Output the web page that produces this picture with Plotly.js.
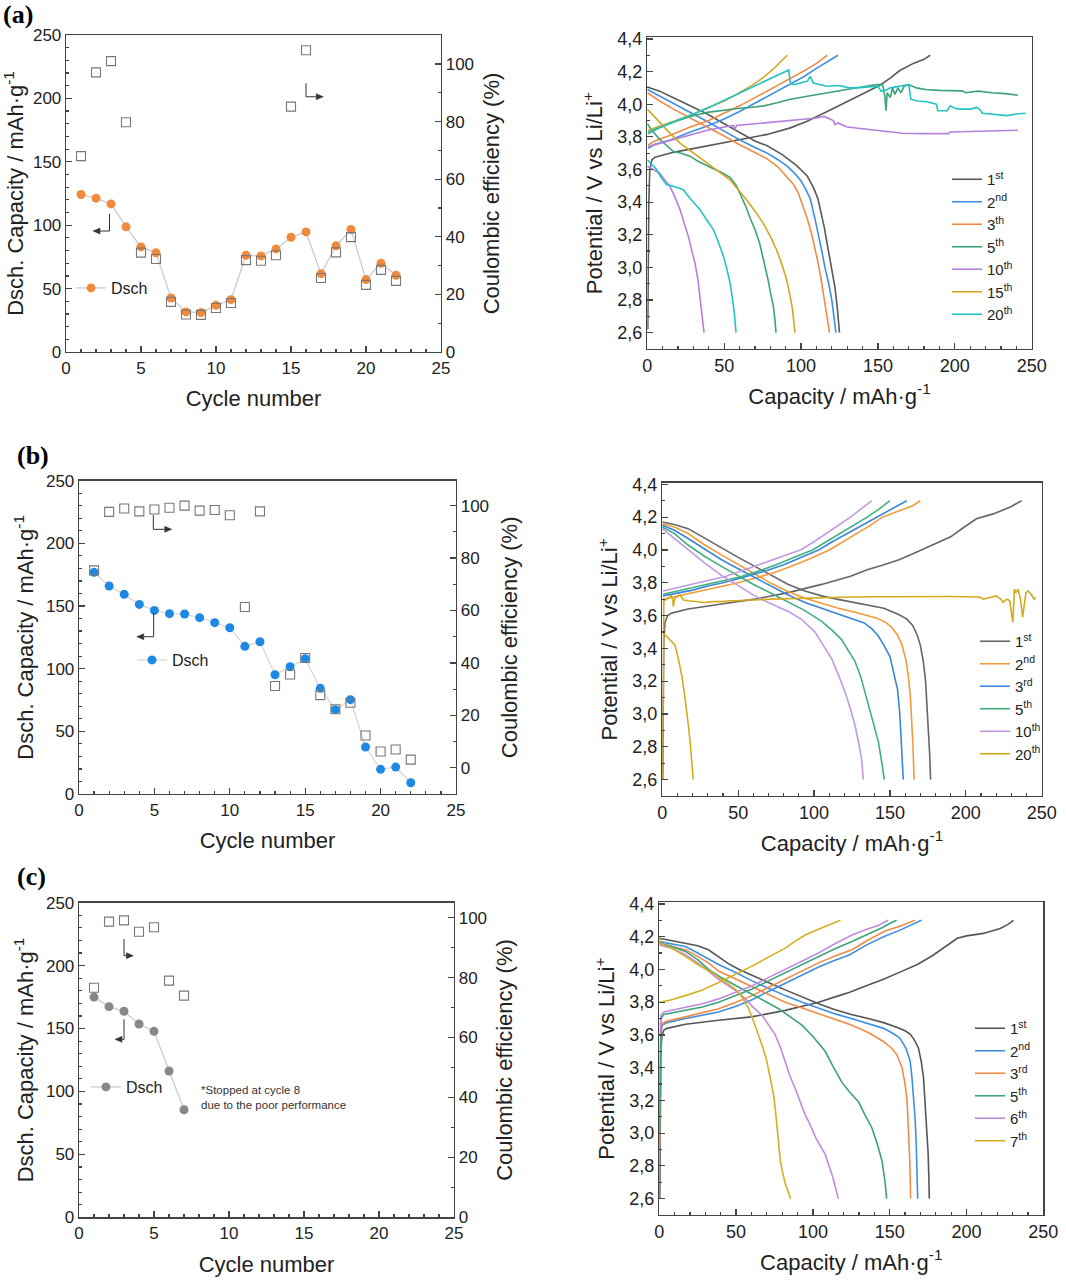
<!DOCTYPE html>
<html><head><meta charset="utf-8">
<script src="https://cdn.plot.ly/plotly-3.0.1.min.js"></script>
<style>html,body{margin:0;padding:0;background:#fff}#chart{width:1066px;height:1280px}</style>
</head><body><div id="chart"></div>
<script>
// ---------------- Cycling data (left panels) ----------------
const cyclesAB = [1,2,3,4,5,6,7,8,9,10,11,12,13,14,15,16,17,18,19,20,21,22];
const aDsch = [124.2,121.3,116.8,98.7,82.9,78.2,42.6,31.6,31.1,36.8,41.3,76.3,75.8,81.3,90.5,94.7,61.8,83.7,96.6,57.1,70,60.5];
const aCE   = [68.0,97.1,101.0,79.8,34.5,32.3,17.4,13.0,12.9,15.3,17.0,31.9,31.7,33.6,85.2,104.8,25.7,34.6,39.9,23.3,28.5,24.7];
const bDsch = [176.9,166,159.3,151.3,146.5,143.9,143.6,140.7,136.7,132.7,117.8,121.5,95.2,101.6,108,84.3,67.3,75.3,37.5,19.7,21.5,9];
const bCE   = [75.3,97.6,98.9,97.8,98.5,99.2,100,98.1,98.3,96.3,61.3,97.8,31.2,35.6,41.9,27.7,22.3,24.8,12.3,6.2,7.0,3.1];
const cyclesC = [1,2,3,4,5,6,7];
const cDsch = [175,167.4,163.7,153.6,147.8,116.3,85.5];
const cCE   = [76.6,98.7,99.1,95.3,96.8,79,74];

// ---------------- Voltage profiles: [capacity, potential] ----------------
// (a)
const a1Charge = [[0.3,2.62],[0.6,3.0],[1,3.4],[1.6,3.6],[3,3.66],[5,3.675],[17,3.705],[28,3.725],[45,3.755],[60,3.78],[78,3.815],[93,3.855],[104,3.895],[117,3.955],[130,4.015],[143,4.08],[151,4.115],[158,4.16],[164,4.205],[173,4.25],[180,4.275],[184,4.3]];
const a1Dis = [[0,4.105],[8,4.08],[17,4.04],[28,3.99],[39,3.94],[50,3.88],[60,3.825],[70,3.775],[78,3.745],[88,3.69],[97,3.625],[104,3.56],[108,3.49],[111,3.42],[115,3.25],[118,3.1],[120,3.0],[122,2.88],[123.5,2.76],[125,2.6]];
const a2Charge = [[0.5,3.73],[5,3.755],[15,3.78],[28,3.83],[40,3.87],[50,3.91],[60,3.955],[71,4.01],[82,4.065],[93,4.12],[102,4.17],[110,4.22],[117,4.26],[124,4.3]];
const a2Dis = [[0,4.09],[8,4.05],[17,4.007],[28,3.95],[39,3.894],[50,3.835],[60,3.782],[70,3.735],[78,3.7],[85,3.66],[91,3.62],[96,3.575],[100,3.53],[103,3.48],[106,3.42],[109,3.3],[111,3.22],[113.5,3.1],[115.5,3.0],[118,2.9],[120,2.8],[121.5,2.7],[122.7,2.6]];
const a3Charge = [[0.5,3.75],[5,3.775],[15,3.81],[28,3.86],[40,3.9],[50,3.945],[60,3.99],[71,4.045],[82,4.1],[93,4.155],[103,4.21],[110,4.25],[117,4.3]];
const a3Dis = [[0,4.07],[8,4.02],[17,3.97],[28,3.915],[39,3.864],[50,3.805],[60,3.752],[70,3.705],[78,3.665],[85,3.615],[90,3.565],[95,3.51],[98,3.46],[101,3.38],[104,3.3],[107,3.2],[109,3.12],[111,3.03],[113,2.93],[115,2.82],[117,2.7],[118.5,2.6]];
const a5Charge = [[0.5,3.82],[8,3.855],[17,3.89],[28,3.925],[39,3.95],[50,3.965],[60,3.975],[67,3.98],[76,3.99],[85,4.01],[93,4.03],[105,4.05],[117,4.07],[127,4.085],[136,4.1],[145,4.115],[150,4.12],[153,4.12],[154.5,4.05],[155.2,3.96],[156,4.07],[158,4.04],[159.5,4.1],[161,4.06],[163,4.1],[165,4.07],[167,4.11],[170,4.12],[175,4.1],[181,4.09],[190,4.085],[200,4.08],[205,4.082],[207,4.07],[212,4.075],[215,4.08],[224,4.07],[233,4.065],[241,4.055]];
const a5Dis = [[0,3.88],[3,3.84],[8,3.785],[13,3.74],[17,3.71],[22,3.7],[28,3.68],[33,3.65],[39,3.62],[44,3.6],[49,3.578],[54,3.55],[58,3.5],[61,3.44],[64,3.375],[67,3.3],[70,3.232],[73,3.15],[75,3.07],[77,3.0],[78.5,2.926],[80,2.85],[82,2.763],[83,2.68],[83.7,2.6]];
const a10Charge = [[0.5,3.74],[8,3.76],[17,3.78],[28,3.81],[39,3.84],[50,3.86],[56,3.87],[57,3.845],[58,3.87],[70,3.88],[82,3.89],[93,3.9],[104,3.91],[110,3.915],[115,3.925],[118,3.91],[121,3.9],[122,3.875],[124,3.885],[130,3.86],[140,3.85],[150,3.84],[166,3.822],[180,3.82],[196,3.82],[197,3.83],[210,3.832],[225,3.835],[241,3.84]];
const a10Dis = [[0,3.62],[4,3.6],[8,3.578],[11,3.54],[14.7,3.497],[18,3.43],[21.3,3.354],[24,3.27],[26.7,3.19],[29,3.1],[31,3.028],[33,2.92],[34.3,2.824],[35.7,2.7],[36.9,2.6]];
const a15Charge = [[0.5,3.84],[10,3.87],[20,3.905],[30,3.94],[40,3.98],[50,4.02],[60,4.07],[68,4.115],[75,4.16],[83,4.225],[91,4.3]];
const a15Dis = [[0,3.97],[4,3.93],[8.3,3.884],[15,3.82],[21.3,3.762],[30,3.7],[38.6,3.64],[46,3.59],[53.6,3.538],[59,3.48],[64.5,3.415],[70,3.345],[75.3,3.273],[80,3.19],[84,3.11],[87.5,3.02],[90.6,2.926],[93,2.82],[94.5,2.74],[96,2.6]];
const a20Charge = [[0.5,3.83],[10,3.865],[20,3.9],[30,3.94],[40,3.98],[50,4.025],[60,4.07],[70,4.115],[80,4.16],[86,4.185],[90,4.2],[92,4.21],[93,4.13],[95,4.12],[98,4.125],[101,4.135],[104,4.14],[106,4.17],[108,4.13],[112,4.12],[117,4.11],[125,4.115],[131,4.1],[136,4.1],[143,4.105],[150,4.11],[152,4.08],[155,4.085],[158,4.1],[164,4.11],[170,4.12],[171.5,4.03],[176,4.02],[182,4.015],[188,4.0],[189,3.96],[195,3.96],[197,3.99],[200,3.975],[203,3.97],[210,3.97],[214,3.98],[216,3.97],[218,3.945],[225,3.94],[234,3.93],[240,3.94],[246,3.945]];
const a20Dis = [[0,3.66],[3,3.63],[6,3.6],[9,3.55],[12.6,3.507],[16,3.5],[19,3.49],[23.4,3.476],[28,3.42],[34.3,3.354],[38,3.3],[43,3.232],[46,3.16],[49.5,3.069],[52,2.98],[53.8,2.906],[55.5,2.8],[56.6,2.722],[57.7,2.6]];
const aNames = ['1<sup>st</sup>','2<sup>nd</sup>','3<sup>th</sup>','5<sup>th</sup>','10<sup>th</sup>','15<sup>th</sup>','20<sup>th</sup>'];

// (b)
const b1Charge = [[0.3,2.6],[0.6,3.1],[1,3.45],[1.8,3.56],[3.5,3.6],[6.2,3.615],[17,3.64],[39,3.67],[61,3.7],[83,3.74],[105,3.79],[124,3.84],[135,3.88],[146,3.91],[156,3.94],[167,3.985],[178,4.03],[190,4.08],[199,4.14],[207,4.19],[218,4.22],[229,4.26],[236.7,4.3]];
const b1Dis = [[0,4.17],[8,4.155],[17,4.13],[28,4.07],[39,4.01],[50,3.955],[61,3.9],[72,3.845],[83,3.79],[94,3.75],[105,3.72],[115,3.7],[124,3.685],[135,3.665],[146,3.645],[155,3.61],[161,3.58],[165,3.54],[168,3.48],[170,3.42],[172,3.32],[173.5,3.2],[174.5,3.05],[175.5,2.9],[176.2,2.75],[176.8,2.6]];
const b2Charge = [[0.5,3.7],[10,3.72],[20,3.74],[30,3.76],[40,3.78],[50,3.8],[62,3.83],[73,3.86],[85,3.9],[97,3.945],[110,4.0],[119,4.05],[128,4.1],[137,4.15],[145,4.2],[152,4.225],[160,4.25],[165,4.27],[170,4.3]];
const b2Dis = [[0,4.16],[8,4.14],[17,4.1],[28,4.03],[39,3.97],[50,3.91],[61,3.85],[72,3.795],[83,3.745],[94,3.705],[105,3.675],[116,3.645],[127,3.62],[135,3.6],[141,3.585],[147,3.56],[151,3.53],[155,3.48],[158,3.42],[160.5,3.33],[162,3.24],[163.5,3.1],[164.5,2.93],[165.2,2.8],[165.9,2.6]];
const b3Charge = [[0.5,3.72],[10,3.735],[20,3.755],[30,3.78],[40,3.8],[50,3.825],[58,3.845],[69,3.875],[80,3.91],[92,3.955],[103,4.0],[112,4.05],[122,4.1],[131,4.15],[141,4.2],[150,4.245],[155,4.27],[161,4.3]];
const b3Dis = [[0,4.15],[8,4.12],[17,4.07],[28,4.005],[39,3.94],[50,3.885],[61,3.83],[72,3.775],[83,3.725],[94,3.68],[105,3.645],[115,3.615],[125,3.585],[133,3.555],[138,3.52],[142,3.48],[146,3.42],[150,3.35],[152.5,3.25],[155,3.15],[156.5,3.0],[157.5,2.85],[158.3,2.72],[158.8,2.6]];
const b5Charge = [[0.5,3.73],[10,3.75],[20,3.77],[30,3.79],[40,3.81],[51,3.835],[63,3.87],[75,3.91],[87,3.955],[99,4.0],[108,4.05],[117,4.1],[126,4.15],[135,4.2],[143,4.25],[150,4.3]];
const b5Dis = [[0,4.14],[8,4.1],[17,4.03],[28,3.96],[39,3.9],[50,3.84],[61,3.785],[72,3.735],[83,3.685],[94,3.63],[105,3.565],[112,3.51],[118,3.455],[123,3.38],[127,3.32],[131,3.22],[134,3.12],[136.5,3.03],[139,2.94],[142.4,2.83],[144.7,2.7],[146.3,2.6]];
const b10Charge = [[0.5,3.75],[10,3.77],[20,3.79],[31,3.815],[42,3.84],[53,3.875],[65,3.915],[78,3.955],[91,4.0],[100,4.05],[108,4.1],[116,4.15],[124,4.2],[131,4.25],[138,4.3]];
const b10Dis = [[0,4.13],[8,4.07],[17.2,4.0],[28,3.92],[39,3.845],[50,3.78],[61,3.72],[72,3.67],[83,3.625],[92,3.575],[100.6,3.5],[106,3.42],[111.6,3.337],[116,3.24],[120.4,3.134],[124,3.03],[127,2.93],[129.5,2.82],[131.3,2.727],[132.5,2.6]];
const b20Charge = [[0.1,2.6],[0.3,3.0],[0.6,3.5],[1,3.69],[3,3.7],[6,3.72],[7,3.69],[7.3,3.655],[8,3.7],[10,3.72],[11.7,3.725],[14,3.695],[17,3.69],[22,3.685],[28,3.68],[33,3.685],[39,3.685],[45,3.69],[50,3.69],[55,3.695],[61,3.695],[72,3.7],[83,3.703],[95,3.705],[105,3.706],[124,3.713],[145,3.715],[167,3.717],[190,3.716],[207,3.713],[210,3.71],[211.4,3.7],[215,3.71],[220,3.72],[223,3.7],[224.6,3.68],[227,3.7],[229,3.69],[230,3.62],[231,3.56],[232,3.76],[233,3.74],[234.5,3.76],[236,3.7],[237.4,3.59],[238.5,3.66],[239.6,3.74],[241,3.75],[243,3.73],[245,3.7],[246,3.71]];
const b20Dis = [[0,3.5],[2,3.48],[4,3.46],[6,3.44],[8.4,3.42],[10.5,3.34],[12.8,3.235],[14.5,3.13],[16,3.03],[17.2,2.93],[18.3,2.83],[19.5,2.7],[20.4,2.6]];
const bNames = ['1<sup>st</sup>','2<sup>nd</sup>','3<sup>rd</sup>','5<sup>th</sup>','10<sup>th</sup>','20<sup>th</sup>'];

// (c)
const c1Charge = [[0.3,2.6],[0.6,3.2],[1,3.5],[1.8,3.6],[3,3.63],[5,3.64],[17,3.665],[38.6,3.69],[60,3.71],[82,3.75],[103.7,3.8],[117,3.84],[124,3.86],[136,3.905],[146,3.94],[157,3.985],[168,4.03],[178,4.085],[189,4.16],[194,4.19],[200,4.205],[211,4.22],[222,4.25],[227,4.275],[230.6,4.3]];
const c1Dis = [[0,4.19],[8,4.175],[17,4.16],[25,4.145],[32,4.12],[38,4.08],[45,4.035],[52,4.0],[60,3.965],[71,3.92],[82,3.875],[93,3.83],[103.7,3.79],[114,3.755],[125,3.725],[136,3.7],[146,3.675],[155,3.645],[160,3.625],[163.3,3.605],[166,3.57],[168.7,3.52],[170.5,3.44],[172,3.34],[173,3.2],[174,3.03],[175,2.88],[175.5,2.73],[175.8,2.6]];
const c2Charge = [[0.3,2.9],[0.6,3.4],[1,3.62],[2,3.66],[5,3.675],[17,3.7],[28,3.72],[38.6,3.74],[50,3.775],[60.4,3.815],[71,3.865],[82,3.915],[93,3.965],[103.7,4.015],[114,4.055],[124,4.09],[135,4.15],[146,4.2],[156.7,4.24],[164,4.27],[170.7,4.3]];
const c2Dis = [[0,4.17],[8,4.155],[17,4.14],[25,4.1],[32,4.065],[38.6,4.03],[50,3.98],[60.4,3.93],[71,3.885],[82,3.84],[93,3.8],[103.7,3.765],[114,3.73],[125,3.7],[136,3.67],[146,3.64],[152,3.61],[156.7,3.58],[160.5,3.52],[163.3,3.44],[164.5,3.34],[165.5,3.23],[166.6,3.08],[167.3,2.93],[167.8,2.78],[168.2,2.6]];
const c3Charge = [[0.3,2.9],[0.6,3.4],[1,3.63],[2,3.67],[5,3.685],[17,3.71],[28,3.735],[38.6,3.76],[50,3.8],[60.4,3.84],[71,3.89],[82,3.94],[93,3.99],[103.7,4.04],[114,4.08],[125.4,4.12],[136,4.18],[147,4.235],[157,4.265],[166.4,4.3]];
const c3Dis = [[0,4.16],[8,4.14],[17,4.12],[25,4.08],[32,4.04],[38.6,3.99],[50,3.94],[60.4,3.89],[71,3.845],[82,3.8],[93,3.765],[103.7,3.73],[114,3.7],[125,3.66],[136,3.615],[145.9,3.56],[151,3.52],[154.6,3.48],[158,3.4],[160,3.3],[161.3,3.2],[162.3,3.03],[163,2.85],[163.4,2.7],[163.6,2.6]];
const c5Charge = [[0.3,3.0],[0.6,3.5],[1,3.7],[3,3.725],[17,3.75],[28,3.77],[38.6,3.8],[50,3.84],[60.4,3.88],[71,3.93],[82,3.98],[93,4.03],[103.7,4.08],[114,4.125],[125.4,4.17],[135,4.21],[145,4.255],[150,4.28],[154.5,4.3]];
const c5Dis = [[0,4.16],[8,4.14],[17,4.11],[25,4.06],[32,4.0],[38.6,3.96],[50,3.9],[60.4,3.85],[70,3.8],[77.7,3.76],[85,3.71],[92.9,3.66],[100,3.59],[108,3.5],[113,3.41],[118.9,3.31],[124,3.25],[129.8,3.19],[134,3.11],[138.5,3.03],[142,2.93],[145,2.83],[147,2.7],[148,2.6]];
const c6Charge = [[0.5,3.6],[1,3.72],[3,3.74],[17,3.77],[28,3.79],[38.6,3.82],[50,3.86],[60.4,3.9],[71,3.95],[82,4.0],[93,4.05],[103.7,4.1],[114,4.155],[125.4,4.21],[135,4.245],[143,4.27],[149,4.3]];
const c6Dis = [[0,4.15],[8,4.13],[17,4.09],[25,4.04],[32,3.99],[38.6,3.94],[45,3.9],[50,3.87],[56,3.82],[61,3.77],[66.9,3.72],[71,3.66],[75.5,3.6],[79,3.52],[82,3.44],[85,3.35],[88.6,3.27],[92,3.18],[95,3.11],[97.3,3.07],[102,2.97],[108,2.87],[113,2.73],[116.5,2.6]];
const c7Charge = [[0.5,3.8],[8,3.815],[17,3.84],[28,3.875],[38.6,3.92],[50,3.97],[60.4,4.02],[71,4.075],[82,4.13],[88,4.17],[95,4.21],[103.7,4.245],[110,4.27],[117.9,4.3]];
const c7Dis = [[0,4.2],[0.5,4.16],[8,4.13],[17,4.08],[25,4.03],[34.3,3.98],[42,3.93],[49.5,3.88],[54,3.83],[58.2,3.76],[61.5,3.68],[64.7,3.6],[67.5,3.52],[70,3.44],[72.5,3.33],[74.5,3.23],[75.7,3.13],[76.6,3.03],[77.5,2.93],[78.8,2.83],[80.5,2.75],[82,2.69],[84,2.64],[85.5,2.6]];
const cNames = ['1<sup>st</sup>','2<sup>nd</sup>','3<sup>rd</sup>','5<sup>th</sup>','6<sup>th</sup>','7<sup>th</sup>'];

// ---------------- styling ----------------
const FONT = 'Liberation Sans, Arial, sans-serif';
const W = 1066, H = 1280;
const colA = ['#5a5a5a','#3d8fe0','#f08c46','#3aa378','#b57fdc','#d4a520','#22c4c4'];
const colB = ['#666666','#f39a3c','#3a86d8','#3fb07f','#c39ae0','#d4aa1c'];
const colC = ['#555555','#3d8fe0','#f08c46','#3aa378','#c08ae0','#d4b020'];

// pixel boxes [left, top, right, bottom]
const boxes = {
  aL:[66,35,441,352], aR:[647.3,37.3,1031.7,349],
  bL:[79,480.7,456,794], bR:[662.3,482.7,1041.7,796],
  cL:[79,902.7,454,1217.3], cR:[659.3,902.3,1043.3,1215]
};
const dx = b => [b[0]/W, b[2]/W];
const dy = b => [1-b[3]/H, 1-b[1]/H];

function curve(ch, dis, name, color, xa, ya, lg){
  return {
    type:'scatter', mode:'lines', name:name, legend:lg, xaxis:xa, yaxis:ya,
    x: ch.map(p=>p[0]).concat([null], dis.map(p=>p[0])),
    y: ch.map(p=>p[1]).concat([null], dis.map(p=>p[1])),
    line:{color:color, width:1.6}, connectgaps:false
  };
}
function dsch(x, y, color, lineColor, xa, ya, lg){
  return {type:'scatter', mode:'lines+markers', name:'Dsch', legend:lg, xaxis:xa, yaxis:ya,
    x:x, y:y, marker:{color:color, size:9}, line:{color:lineColor, width:1.3}};
}
function ce(x, y, xa, ya){
  return {type:'scatter', mode:'markers', name:'CE', showlegend:false, xaxis:xa, yaxis:ya,
    x:x, y:y, marker:{symbol:'square-open', color:'#777', size:9, line:{width:1.1}}};
}

const traces = [];
traces.push(dsch(cyclesAB, aDsch, '#f08a3c', '#c5cdd8', 'x', 'y', 'legend'));
traces.push(ce(cyclesAB, aCE, 'x', 'y2'));
[[a1Charge,a1Dis],[a2Charge,a2Dis],[a3Charge,a3Dis],[a5Charge,a5Dis],[a10Charge,a10Dis],[a15Charge,a15Dis],[a20Charge,a20Dis]]
  .forEach((c,i)=>traces.push(curve(c[0],c[1],aNames[i],colA[i],'x2','y3','legend2')));
traces.push(ce(cyclesAB, bCE, 'x3', 'y5'));
traces.push(dsch(cyclesAB, bDsch, '#1e88e5', '#ddd6cc', 'x3', 'y4', 'legend3'));
[[b1Charge,b1Dis],[b2Charge,b2Dis],[b3Charge,b3Dis],[b5Charge,b5Dis],[b10Charge,b10Dis],[b20Charge,b20Dis]]
  .forEach((c,i)=>traces.push(curve(c[0],c[1],bNames[i],colB[i],'x4','y6','legend4')));
traces.push(ce(cyclesC, cCE, 'x5', 'y8'));
traces.push(dsch(cyclesC, cDsch, '#888888', '#cccccc', 'x5', 'y7', 'legend5'));
[[c1Charge,c1Dis],[c2Charge,c2Dis],[c3Charge,c3Dis],[c5Charge,c5Dis],[c6Charge,c6Dis],[c7Charge,c7Dis]]
  .forEach((c,i)=>traces.push(curve(c[0],c[1],cNames[i],colC[i],'x6','y9','legend6')));

const AX = {showline:true, linecolor:'#444', linewidth:1.3, ticks:'inside', ticklen:6, tickwidth:1.2,
  tickcolor:'#444', showgrid:false, zeroline:false, tickfont:{size:17, color:'#222', family:FONT}};
function xCyc(b, anchor){
  return Object.assign({}, AX, {domain:dx(b), anchor:anchor, range:[0,25], dtick:5, tick0:0, mirror:true,
    minor:{dtick:1, ticks:'inside', ticklen:3, tickcolor:'#444'},
    title:{text:'Cycle number', font:{size:22, color:'#222'}, standoff:14}});
}
function yCap(b, anchor){
  return Object.assign({}, AX, {domain:dy(b), anchor:anchor, range:[0,250], dtick:50, tick0:0,
    minor:{dtick:10, ticks:'inside', ticklen:3, tickcolor:'#444'},
    title:{text:'Dsch. Capacity / mAh·g<sup>-1</sup>', font:{size:22, color:'#222'}, standoff:6}});
}
function yCE(range, overlay, anchor, so){
  return Object.assign({}, AX, {overlaying:overlay, side:'right', anchor:anchor, range:range, dtick:20, tick0:0,
    minor:{dtick:10, ticks:'inside', ticklen:3, tickcolor:'#444'},
    title:{text:'Coulombic efficiency (%)', font:{size:22, color:'#222'}, standoff:so}});
}
function xVolt(b, anchor){
  return Object.assign({}, AX, {domain:dx(b), anchor:anchor, range:[0,250], dtick:50, tick0:0, mirror:true,
    tickfont:{size:18, color:'#222', family:FONT},
    minor:{dtick:10, ticks:'inside', ticklen:3, tickcolor:'#444'},
    title:{text:'Capacity / mAh·g<sup>-1</sup>', font:{size:22, color:'#222'}, standoff:13}});
}
function yVolt(b, anchor){
  return Object.assign({}, AX, {domain:dy(b), anchor:anchor, range:[2.5,4.41], dtick:0.2, tick0:2.6, tickformat:'.1f', mirror:true,
    tickfont:{size:18, color:'#222', family:FONT},
    minor:{dtick:0.1, ticks:'inside', ticklen:3, tickcolor:'#444'},
    title:{text:'Potential / V vs Li/Li<sup>+</sup>', font:{size:22, color:'#222'}, standoff:8}});
}

function legendAt(px, py, size){
  return {x:px/W, y:1-py/H, xanchor:'left', yanchor:'top', bgcolor:'rgba(0,0,0,0)',
    font:{size:size, color:'#222', family:FONT}, tracegroupgap:0, itemwidth:30};
}

// bent-arrow decorations [x0, yTop, yCorner, xEnd] in data units of the capacity axis
const arrowsA = [[2.9,109,95.4,1.8],[16.0,211.9,201.3,17.15]];
const arrowsB = [[4.95,144.2,125.5,3.83],[4.93,222.6,211.2,6.15]];
const arrowsC = [[3.0,157.3,141.4,2.4],[3.0,221.2,207.9,3.62]];
const shapes = [], annotations = [];
function addArrows(arr, xr, yr, b){
  const pxX = (b[2]-b[0])/25, pxY = (b[3]-b[1])/250;  // px per data unit
  arr.forEach(a=>{
    const dir = Math.sign(a[3]-a[0]);
    const hl = 7/pxX, hw = 3/pxY;
    const xb = a[3] - dir*hl;
    shapes.push({type:'path', xref:xr, yref:yr,
      path:`M${a[0]},${a[1]} L${a[0]},${a[2]} L${xb},${a[2]}`, line:{color:'#333', width:1}});
    shapes.push({type:'path', xref:xr, yref:yr, fillcolor:'#333', line:{color:'#333', width:0.5},
      path:`M${a[3]},${a[2]} L${xb},${a[2]+hw} L${xb},${a[2]-hw} Z`});
  });
}
addArrows(arrowsA, 'x', 'y', boxes.aL);
addArrows(arrowsB, 'x3', 'y4', boxes.bL);
addArrows(arrowsC, 'x5', 'y7', boxes.cL);

annotations.push({xref:'x5', yref:'y7', x:8.0, y:95, xanchor:'left', yanchor:'middle', align:'left', showarrow:false,
  text:'*Stopped at cycle 8<br>due to the poor performance', font:{size:11.5, color:'#333', family:FONT}});
[['(a)',18,14],['(b)',33,456],['(c)',31,876]].forEach(p=>{
  annotations.push({xref:'paper', yref:'paper', x:p[1]/W, y:1-p[2]/H, xanchor:'center', yanchor:'middle', showarrow:false,
    text:'<b>'+p[0]+'</b>', font:{size:26, color:'#000', family:'Liberation Serif, Times New Roman, serif'}});
});

const layout = {
  width:W, height:H, margin:{l:0,r:0,t:0,b:0}, paper_bgcolor:'#fff', plot_bgcolor:'rgba(0,0,0,0)',
  separators:', ', font:{family:FONT, color:'#222'}, showlegend:true,
  xaxis: xCyc(boxes.aL,'y'), yaxis: yCap(boxes.aL,'x'), yaxis2: yCE([0,110.07],'y','x',10),
  xaxis2: xVolt(boxes.aR,'y3'), yaxis3: yVolt(boxes.aR,'x2'),
  xaxis3: xCyc(boxes.bL,'y4'), yaxis4: yCap(boxes.bL,'x3'), yaxis5: yCE([-10,109.5],'y4','x3',13),
  xaxis4: xVolt(boxes.bR,'y6'), yaxis6: yVolt(boxes.bR,'x4'),
  xaxis5: xCyc(boxes.cL,'y7'), yaxis7: yCap(boxes.cL,'x5'), yaxis8: yCE([0,105],'y7','x5',10),
  xaxis6: xVolt(boxes.cR,'y9'), yaxis9: yVolt(boxes.cR,'x6'),
  legend: legendAt(71, 271, 16),
  legend2: legendAt(947, 163, 15),
  legend3: legendAt(132, 643, 16),
  legend4: legendAt(975, 625, 15),
  legend5: legendAt(86, 1070, 16),
  legend6: legendAt(970, 1012, 15),
  shapes: shapes, annotations: annotations
};

Plotly.newPlot('chart', traces, layout, {staticPlot:true, displayModeBar:false});
</script>
</body></html>
